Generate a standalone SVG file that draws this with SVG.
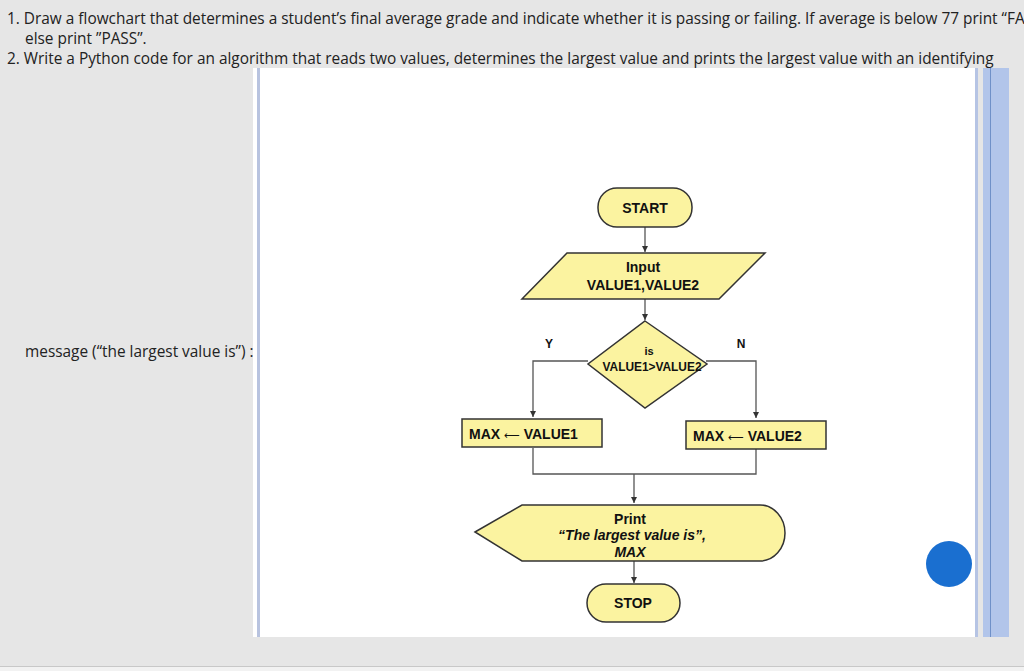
<svg xmlns="http://www.w3.org/2000/svg" width="1024" height="671" viewBox="0 0 1024 671">
<style>
.page{font-family:"Open Sans","Liberation Sans",sans-serif;font-size:15.4px;fill:#222}
.shape{fill:#fbf3a0;stroke:#333;stroke-width:1.5}
.lbl{font-family:"Liberation Sans",Arial,sans-serif;font-weight:bold;font-size:14px;fill:#111;text-anchor:middle}
.st{text-anchor:start}
.it{font-style:italic}
.arr{font-family:"DejaVu Sans",sans-serif;font-weight:normal;font-size:11px}
.conn{fill:none;stroke:#555;stroke-width:1.3}
</style>
<defs>
<marker id="ah" viewBox="0 0 10 10" refX="10" refY="5" markerWidth="6" markerHeight="6" orient="auto" markerUnits="userSpaceOnUse">
<path d="M0,0 L10,5 L0,10 Z" fill="#333"/>
</marker>
</defs>
<rect x="0" y="0" width="1024" height="671" fill="#e6e6e6"/>
<rect x="0" y="667" width="1024" height="4" fill="#f2f2f2"/>
<rect x="0" y="666" width="1024" height="1" fill="#c8c8c8"/>
<rect x="253" y="68" width="722" height="569" fill="#ffffff"/>
<rect x="257" y="68" width="3" height="569" fill="#b8c3df"/>
<rect x="975" y="68" width="3" height="569" fill="#b6c4e4"/>
<rect x="983" y="68" width="26" height="569" fill="#b2c5ea"/>
<rect x="990" y="68" width="1" height="569" fill="#6f90c8"/>
<text class="page" x="7" y="24">1. Draw a flowchart that determines a student’s final average grade and indicate whether it is passing or failing. If average is below 77 print “FA</text>
<text class="page" x="25" y="44">else print ”PASS”.</text>
<text class="page" x="7" y="64">2. Write a Python code for an algorithm that reads two values, determines the largest value and prints the largest value with an identifying</text>
<text class="page" x="25" y="357">message (“the largest value is”) :</text>
<circle cx="949" cy="564" r="23" fill="#1a6fd0"/>
<g id="connectors">
<path class="conn" d="M645,227 V252" marker-end="url(#ah)"/>
<path class="conn" d="M645,299 V320" marker-end="url(#ah)"/>
<path class="conn" d="M588,361 H533 V417" marker-end="url(#ah)"/>
<path class="conn" d="M706,361 H756 V418" marker-end="url(#ah)"/>
<path class="conn" d="M533,448 V474 H756 V449"/>
<path class="conn" d="M634,474 V503" marker-end="url(#ah)"/>
<path class="conn" d="M634,561 V583" marker-end="url(#ah)"/>
<text class="lbl" x="549" y="348" style="font-size:12px">Y</text>
<text class="lbl" x="741" y="348" style="font-size:12px">N</text>
</g>
<g id="start">
<rect class="shape" x="598" y="188" width="94" height="39" rx="19"/>
<text class="lbl" x="645" y="213">START</text>
</g>
<g id="input">
<path class="shape" d="M567,253 H765 L719,299 H522 Z"/>
<text class="lbl" x="643" y="272">Input</text>
<text class="lbl" x="643" y="290">VALUE1,VALUE2</text>
</g>
<g id="decision">
<path class="shape" d="M645,321 L707,364 L645,408 L588,364 Z"/>
<text class="lbl" x="649" y="355" style="font-size:11px">is</text>
<text class="lbl" x="652" y="371" style="font-size:12px" textLength="99" lengthAdjust="spacingAndGlyphs">VALUE1&gt;VALUE2</text>
</g>
<g id="max1">
<rect class="shape" x="462" y="419" width="140" height="28"/>
<text class="lbl st" x="469" y="439">MAX <tspan class="arr">⟵</tspan> VALUE1</text>
</g>
<g id="max2">
<rect class="shape" x="686" y="421" width="140" height="28"/>
<text class="lbl st" x="693" y="441">MAX <tspan class="arr">⟵</tspan> VALUE2</text>
</g>
<g id="print">
<path class="shape" d="M475,532 L522,505 H760 A25,28 0 0 1 760,561 H522 Z"/>
<text class="lbl" x="630" y="524">Print</text>
<text class="lbl it" x="632" y="540">“The largest value is”,</text>
<text class="lbl it" x="630" y="557">MAX</text>
</g>
<g id="stop">
<rect class="shape" x="587" y="584" width="93" height="38" rx="19"/>
<text class="lbl" x="633" y="608">STOP</text>
</g>
</svg>
